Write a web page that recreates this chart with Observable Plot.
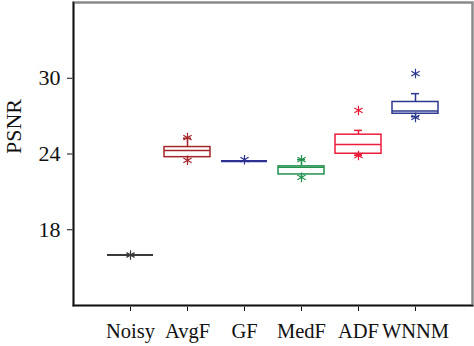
<!DOCTYPE html>
<html>
<head>
<meta charset="utf-8">
<script src="https://cdn.jsdelivr.net/npm/d3@7"></script>
<script src="https://cdn.jsdelivr.net/npm/@observablehq/plot@0.6"></script>
<style>
  html, body { margin: 0; padding: 0; background: #fff; }
  #chart svg g[aria-label="x-axis tick label"] { font-size: 20.5px; }
</style>
</head>
<body>
<div id="chart"></div>
<script>
const categories = ["Noisy", "AvgF", "GF", "MedF", "ADF", "WNNM"];
const colors     = ["#3a3a3a", "#a3262a", "#2e3192", "#23914f", "#ed1c3a", "#2b3990"];
const q1         = [16.0, 23.75, 23.44, 22.38, 24.02, 27.19];
const median     = [16.0, 24.28, 23.44, 22.95, 24.76, 27.40];
const q3         = [16.0, 24.55, 23.44, 23.02, 25.53, 28.12];
const whiskerLow = [16.0, 23.50, 23.44, 22.20, 23.90, 26.95];
const whiskerHigh= [16.0, 25.25, 23.44, 23.55, 25.87, 28.78];
const capHigh    = [null, 25.25, null, 23.55, 25.87, 28.78];
const capLow     = [null, null, null, null, 23.90, 26.95];
const outlierCat = ["Noisy", "AvgF", "AvgF", "GF", "MedF", "MedF", "ADF", "ADF", "WNNM", "WNNM"];
const outlierVal = [16.0, 25.3, 23.5, 23.55, 23.55, 22.15, 27.45, 23.88, 30.37, 26.9];
const yTicks = [18, 24, 30];
const yLabel = "PSNR";

const boxes = categories.map((c, i) => ({
  cat: c, q1: q1[i], median: median[i], q3: q3[i],
  lo: whiskerLow[i], hi: whiskerHigh[i], capHi: capHigh[i], capLo: capLow[i]
}));
const realBoxes = boxes.filter(d => d.q3 > d.q1);
const flatBoxes = boxes.filter(d => d.q3 === d.q1);
const points = outlierCat.map((c, i) => ({cat: c, v: outlierVal[i]}));

const chart = Plot.plot({
  width: 474,
  height: 346,
  marginLeft: 73,
  marginRight: 2,
  marginTop: 2,
  marginBottom: 41,
  style: {fontFamily: "'Liberation Serif', 'Times New Roman', serif", fontSize: "22px", color: "#111", background: "#fff"},
  x: {domain: categories, paddingInner: 0.2, paddingOuter: 0.6, label: null, tickSize: 6, tickPadding: 12},
  y: {domain: [12, 36], ticks: yTicks, tickSize: 6, tickPadding: 7, label: null},
  color: {domain: categories, range: colors},
  marks: [
    Plot.frame({stroke: "#8a8a8a", strokeWidth: 2.5}),
    Plot.frame({anchor: "left", stroke: "#111", strokeWidth: 1.6}),
    Plot.frame({anchor: "bottom", stroke: "#111", strokeWidth: 1.6}),
    Plot.text([yLabel], {text: d => d, frameAnchor: "left", dx: -60, rotate: -90, fontSize: 22, fill: "#111"}),
    Plot.ruleX(realBoxes, {x: "cat", y1: "q3", y2: "hi", stroke: "cat", strokeWidth: 1.5}),
    Plot.ruleX(realBoxes, {x: "cat", y1: "lo", y2: "q1", stroke: "cat", strokeWidth: 1.5}),
    Plot.tickY(boxes.filter(d => d.capHi != null), {x: "cat", y: "capHi", stroke: "cat", strokeWidth: 1.5, insetLeft: 19, insetRight: 19}),
    Plot.tickY(boxes.filter(d => d.capLo != null), {x: "cat", y: "capLo", stroke: "cat", strokeWidth: 1.5, insetLeft: 19, insetRight: 19}),
    Plot.barY(realBoxes, {x: "cat", y1: "q1", y2: "q3", stroke: "cat", fill: "white", strokeWidth: 1.5, inset: 0}),
    Plot.tickY(realBoxes, {x: "cat", y: "median", stroke: "cat", strokeWidth: 1.5}),
    Plot.tickY(flatBoxes, {x: "cat", y: "median", stroke: "cat", strokeWidth: 2.2}),
    Plot.dot(points, {x: "cat", y: "v", symbol: "asterisk", r: 4.5, stroke: "cat", strokeWidth: 1.2})
  ]
});
document.getElementById("chart").appendChild(chart);
</script>
</body>
</html>
